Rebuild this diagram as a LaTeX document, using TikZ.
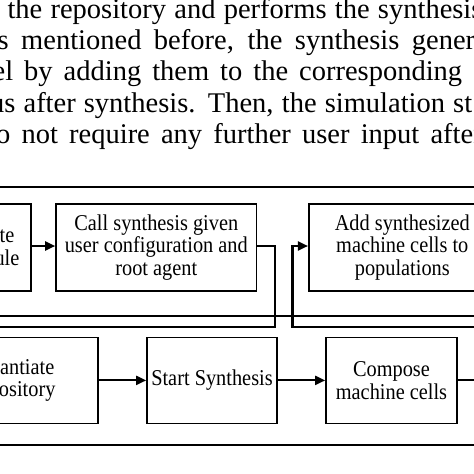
\documentclass[tikz,border=0pt]{standalone}
\usepackage{fontspec}
\setmainfont{Liberation Serif}
\newfontfamily\figfont[FakeStretch=0.9]{Liberation Serif}
\usetikzlibrary{arrows.meta, positioning}

\tikzset{
  flowbox/.style={draw, line width=1.7pt, align=center, inner sep=2pt,
    minimum height=87pt, font=\figfont\fontsize{22.6}{22.6}\selectfont},
  flowline/.style={line width=2.1pt},
  flowarrow/.style={line width=2.1pt, -{Triangle[length=10pt,width=9pt]}},
  frameline/.style={line width=1.7pt},
  bodytext/.style={anchor=base west, inner sep=0pt,
    font=\fontsize{28.5}{31.3}\selectfont},
}

\begin{document}
\begin{tikzpicture}[x=1pt, y=-1pt]
    \useasboundingbox (0,0) rectangle (474,474);
    \clip (0,0) rectangle (474,474);
    \fill[white] (0,0) rectangle (474,474);
    % paragraph above the figure
    \node[bodytext] (line1) at (7.3,18.3) {\makebox[475pt][s]{the repository and performs the synthesis}};
    \node[bodytext] (line2) at (-2.5,49.6) {\makebox[477.5pt][s]{s mentioned before, the synthesis gener}};
    \node[bodytext] (line3) at (-7.5,80.9) {\makebox[469.5pt][s]{el by adding them to the corresponding}};
    \node[bodytext] (line4) at (-10,112.2) {\makebox[482pt][s]{us after synthesis. Then, the simulation st}};
    \node[bodytext] (line5) at (-4,143.5) {\makebox[486.5pt][s]{o not require any further user input after}};
    % frames
    \draw[frameline] (-10,186.7) rectangle (484,316);
    \draw[frameline] (-10,445) -- (484,445);
    % top row
    \node[flowbox, minimum width=48pt] (module) at (7,247.5) {te\\ule};
    \node[flowbox, minimum width=200.5pt] (callsyn) at (156.3,247.5) {Call synthesis given\\user configuration and\\root agent};
    \node[flowbox, minimum width=187pt] (addcells) at (402.3,247.5) {Add synthesized\\machine cells to\\populations};
    % bottom row
    \node[flowbox, minimum width=141pt, minimum height=86pt] (repo) at (27.2,380.4) {antiate\\ository};
    \node[flowbox, minimum width=130pt, minimum height=86pt] (startsyn) at (212,380.4) {Start Synthesis};
    \node[flowbox, minimum width=131pt, minimum height=86pt] (compose) at (391.5,380.4) {Compose\\machine cells};
    % connectors
    \coordinate (calldrop) at (275.3,326.7);
    \coordinate (leftend) at (-10,326.7);
    \coordinate (addrise) at (292.5,326.7);
    \coordinate (rightend) at (484,326.7);
    \coordinate (composeout) at (484,380.4);
    \draw[flowarrow] ([yshift=1.5pt]module.east) -- ([yshift=1.5pt]callsyn.west);
    \draw[flowline] ([yshift=1.5pt]callsyn.east) -| (calldrop) -- (leftend);
    \draw[flowarrow] (rightend) -- (addrise) |- ([yshift=1.5pt]addcells.west);
    \draw[flowarrow] (repo) -- (startsyn);
    \draw[flowarrow] (startsyn) -- (compose);
    \draw[flowline] (compose) -- (composeout);
\end{tikzpicture}
\end{document}
